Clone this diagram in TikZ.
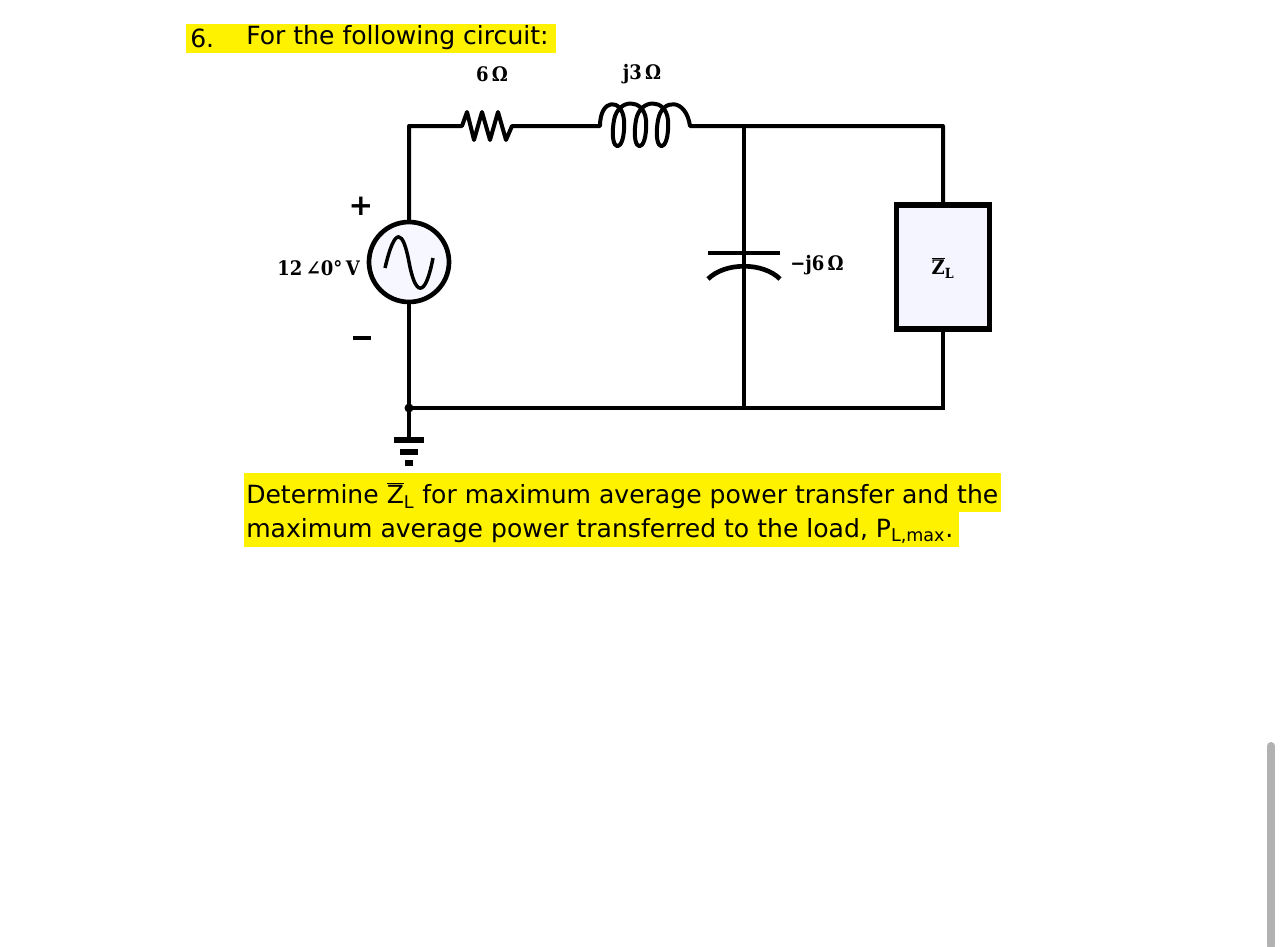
\documentclass[tikz,border=0pt]{standalone}
\usepackage{fontspec}
\setmainfont{DejaVu Sans}
\newfontfamily\lab{DejaVu Serif Condensed}
\begin{document}
\begin{tikzpicture}[x=0.75pt,y=-0.75pt,
  wire/.style={line width=3pt},
  txt/.style={anchor=west,inner sep=0,font=\fontsize{18.8}{22}\selectfont},
  clab/.style={inner sep=0,font=\lab\bfseries\fontsize{15}{17}\selectfont}]
\useasboundingbox (0,0) rectangle (1284,946);
% highlights
\fill[yellow] (186,24) rectangle (556,53);
\fill[yellow] (244,473) rectangle (1001,512);
\fill[yellow] (244,512) rectangle (959,547);
\node[txt] (t1) at (190,38) {6.};
\node[txt] (t2) at (246,38) {For the following circuit:};
\node[txt] (t3) at (246,496) {Determine $\overline{\mbox{Z}}$\textsubscript{L} for maximum average power transfer and the};
\node[txt] (t4) at (246,531) {maximum average power transferred to the load, P\textsubscript{L,max}.};
% coordinates
\coordinate (tl) at (409,126);
\coordinate (tr) at (943,126);
\coordinate (bl) at (409,408);
\coordinate (br) at (943,408);
\coordinate (ct) at (744,126);
\coordinate (cb) at (744,408);
% top wire with resistor and inductor
\draw[wire,line join=round] (409,222) -- (tl) -- (462,126) -- (467,112) -- (474,140) -- (482,112) -- (490,140) -- (498,112) -- (506,140) -- (512,126) -- (600,126)
  .. controls (600,98) and (622,98) .. (624,120)
  .. controls (626,155) and (608,155) .. (614,120)
  .. controls (618,98) and (644,98) .. (646,120)
  .. controls (648,155) and (630,155) .. (636,120)
  .. controls (640,98) and (666,98) .. (668,120)
  .. controls (670,155) and (652,155) .. (658,120)
  .. controls (662,98) and (686,98) .. (690,126) -- (tr) -- (943,205);
\node[clab] (lr) at (492,74) {6\,Ω};
\node[clab] (ll) at (642,74) {j3\,Ω};
% source
\node[circle,draw,line width=3.5pt,fill=blue!3,minimum width=76pt*0.75,minimum height=80pt*0.75,inner sep=0] (src) at (409,262) {};
\draw[line width=2.6pt] (385,268) .. controls (395,225) and (403,230) .. (409,262) .. controls (415,295) and (425,300) .. (433,258);
\node[font=\bfseries\fontsize{22}{22}\selectfont,inner sep=0] (plus) at (361,206) {+};
\draw[line width=2.8pt] (353,338) -- (371,338);
\node[clab,anchor=east] (vl) at (360,268) {12\,∠0°\,V};
\draw[wire] (src.south) -- (bl);
\draw[wire] (409,222) -- (src.north);
% bottom
\draw[line width=3.6pt] (bl) -- (br) -- (943,330);
\fill (bl) circle (4.5);
\draw[wire] (bl) -- (409,440);
\draw[line width=4.5pt] (394,440) -- (424,440);
\draw[line width=4.5pt] (400,452) -- (418,452);
\draw[line width=4.5pt] (405,463) -- (413,463);
% capacitor
\draw[wire] (ct) -- (cb);
\draw[line width=3.5pt] (708,253) -- (780,253);
\draw[line width=3.5pt] (708,279) .. controls (725,262) and (763,262) .. (780,279);
\node[clab,anchor=west] (cl) at (790,265) {−j6\,Ω};
% load
\node[draw,line width=4pt,fill=blue!4,minimum width=93pt*0.75,minimum height=124pt*0.75,inner sep=0] (zl) at (943,267) {};
\node[clab] (zt) at (943,268) {$\overline{\mbox{Z}}$\textsubscript{L}};
% scrollbar
\draw[line width=6pt,gray!60,line cap=round] (1271,746) -- (1271,946);
\end{tikzpicture}
\end{document}
